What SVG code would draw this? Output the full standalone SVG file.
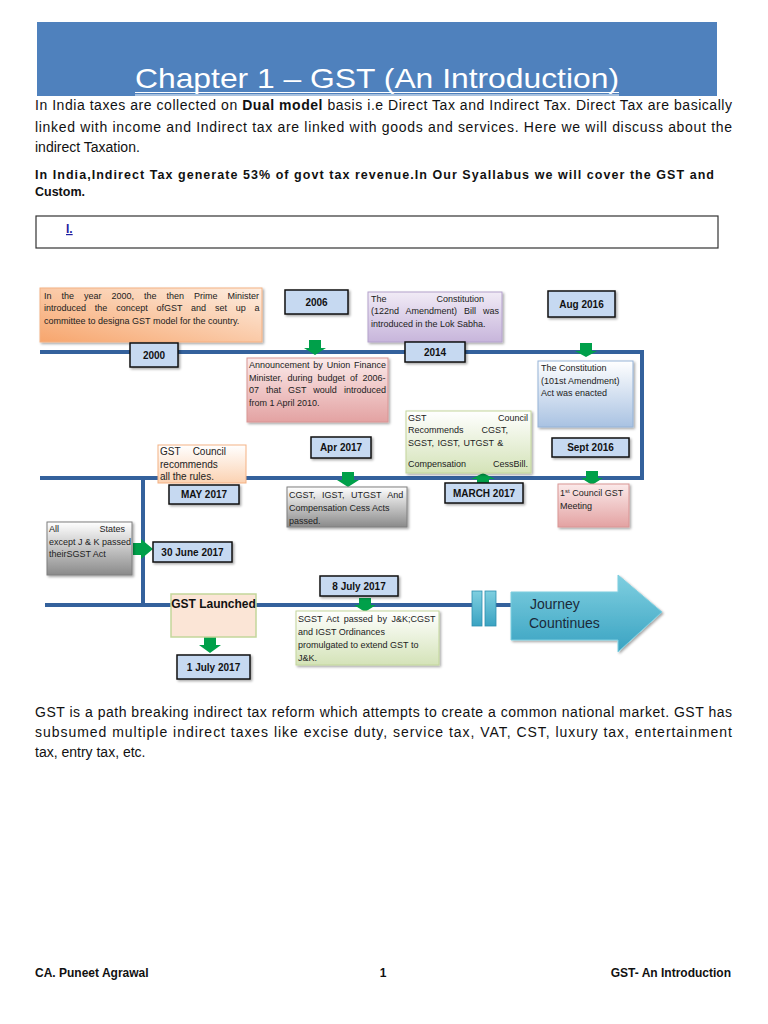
<svg xmlns="http://www.w3.org/2000/svg" width="768" height="1024" viewBox="0 0 768 1024">
<defs>
<style>
.body{font-family:"Liberation Sans",Arial,sans-serif;font-size:14px;fill:#111}
.bold{font-family:"Liberation Sans",Arial,sans-serif;font-size:12.5px;font-weight:bold;fill:#111}
.bx{font-family:"Liberation Sans",Arial,sans-serif;font-size:9px;fill:#222}
.end{text-anchor:end}
.dt{font-family:"Liberation Sans",Arial,sans-serif;font-size:10px;font-weight:bold;fill:#111;text-anchor:middle}
.date{fill:#c6d9f1;stroke:#111;stroke-width:1.5}
.tl{stroke:#34619c;stroke-width:4;fill:none}
.arr{fill:#00a04a}
.foot{font-family:"Liberation Sans",Arial,sans-serif;font-size:12px;font-weight:bold;fill:#111}
</style>
<linearGradient id="gOr" x1="0" y1="1" x2="1" y2="0"><stop offset="0" stop-color="#f7a56c"/><stop offset="1" stop-color="#fdeee2"/></linearGradient>
<linearGradient id="gPu" x1="0" y1="0" x2="0" y2="1"><stop offset="0" stop-color="#f1ebf6"/><stop offset="1" stop-color="#c7b5db"/></linearGradient>
<linearGradient id="gPk" x1="0" y1="0" x2="0" y2="1"><stop offset="0" stop-color="#fbeaea"/><stop offset="1" stop-color="#e3a2a2"/></linearGradient>
<linearGradient id="gBl" x1="0" y1="0" x2="0" y2="1"><stop offset="0" stop-color="#ffffff"/><stop offset="1" stop-color="#a9c2e2"/></linearGradient>
<linearGradient id="gGr" x1="0" y1="0" x2="0" y2="1"><stop offset="0" stop-color="#ffffff"/><stop offset="1" stop-color="#d4e3b8"/></linearGradient>
<linearGradient id="gGy" x1="0" y1="0" x2="0" y2="1"><stop offset="0" stop-color="#ffffff"/><stop offset="1" stop-color="#8a8a8a"/></linearGradient>
<linearGradient id="gOl" x1="0" y1="0" x2="0" y2="1"><stop offset="0" stop-color="#ffffff"/><stop offset="1" stop-color="#fbd2b2"/></linearGradient>
<linearGradient id="gTe" x1="0" y1="0" x2="0" y2="1"><stop offset="0" stop-color="#7fcfe0"/><stop offset="1" stop-color="#3aa3c2"/></linearGradient>
<filter id="sh" x="-10%" y="-10%" width="130%" height="140%"><feDropShadow dx="1.5" dy="1.5" stdDeviation="1" flood-color="#000" flood-opacity="0.35"/></filter>
</defs>
<rect width="768" height="1024" fill="#fff"/>

<g id="header">
<rect x="37" y="22" width="680" height="74" fill="#4f81bd"/>
<text x="135" y="88" textLength="484" lengthAdjust="spacingAndGlyphs" font-family="Liberation Sans,Arial,sans-serif" font-size="28" fill="#fff">Chapter 1 – GST (An Introduction)</text>
<line x1="135" y1="92.5" x2="619" y2="92.5" stroke="#fff" stroke-width="1"/>
<line x1="135" y1="95" x2="619" y2="95" stroke="#fff" stroke-width="1"/>
</g>

<g id="intro">
<text class="body" x="35" y="110" textLength="697" lengthAdjust="spacing">In India taxes are collected on <tspan font-weight="bold">Dual model</tspan> basis i.e Direct Tax and Indirect Tax. Direct Tax are basically</text>
<text class="body" x="35" y="132" textLength="697" lengthAdjust="spacing">linked with income and Indirect tax are linked with goods and services. Here we will discuss about the</text>
<text class="body" x="35" y="152">indirect Taxation.</text>
<text class="bold" x="35" y="179" textLength="679" lengthAdjust="spacing">In India,Indirect Tax generate 53% of govt tax revenue.In Our Syallabus we will cover the GST and</text>
<text class="bold" x="35" y="196">Custom.</text>
</g>

<g id="box-I">
<rect x="36" y="216" width="682" height="32" fill="#fff" stroke="#333" stroke-width="1.2"/>
<text x="66" y="233" font-family="Liberation Sans,Arial,sans-serif" font-size="12" font-weight="bold" fill="#1f1fa0" text-decoration="underline">I.</text>
</g>

<g id="connectors">
<path class="tl" d="M40 352 H642 V478 H40"/>
<path class="tl" d="M143 478 V605"/>
<path class="tl" d="M45 605 H472"/>
<line x1="495" y1="605" x2="512" y2="605" stroke="#34619c" stroke-width="4"/>
<path class="arr" d="M309 340 h12 v8 h5 l-11 7 l-11 -7 h5 z"/>
<path class="arr" d="M580 343 h12 v8 h5 l-11 6 l-11 -6 h5 z"/>
<path class="arr" d="M204 483 h12 v-5 h5 l-11 -5 l-11 5 h5 z"/>
<path class="arr" d="M342 472 h12 v8 h5 l-11 7 l-11 -7 h5 z"/>
<path class="arr" d="M477 483 h12 v-4 h6 l-12 -6 l-12 6 h6 z"/>
<path class="arr" d="M586 471 h12 v7 h5 l-11 7 l-11 -7 h5 z"/>
<path class="arr" d="M133 543 h8 v-4 l12 10 l-12 10 v-4 h-8 z"/>
<path class="arr" d="M359 598 h12 v7 h5 l-11 7 l-11 -7 h5 z"/>
<path class="arr" d="M204 637 h12 v8 h5 l-11 8 l-11 -8 h5 z"/>
</g>

<g id="n-2000-text">
<rect x="40" y="288" width="222" height="54" fill="url(#gOr)" stroke="#f4b183" stroke-width="1" filter="url(#sh)"/>
<text class="bx" x="44" y="299" font-size="9.5" word-spacing="7.5">In the year 2000, the then Prime Minister</text>
<text class="bx" x="44" y="311" font-size="9.5" word-spacing="6.3">introduced the concept ofGST and set up a</text>
<text class="bx" x="44" y="324" font-size="9.5">committee to designa GST model for the country.</text>
</g>
<g id="d-2006"><rect class="date" x="285" y="290" width="63" height="24" filter="url(#sh)"/><text class="dt" x="316.5" y="306">2006</text></g>
<g id="n-122nd">
<rect x="368" y="292" width="134" height="50" fill="url(#gPu)" stroke="#b4a2cc" stroke-width="1" filter="url(#sh)"/>
<text class="bx" x="371" y="302">The</text>
<text class="bx end" x="484" y="302">Constitution</text>
<text class="bx" x="371" y="314" word-spacing="4.5">(122nd Amendment) Bill was</text>
<text class="bx" x="371" y="327">introduced in the Lok Sabha.</text>
</g>
<g id="d-aug2016"><rect class="date" x="548" y="291" width="67" height="26" filter="url(#sh)"/><text class="dt" x="581.5" y="308">Aug 2016</text></g>
<g id="d-2000"><rect class="date" x="130" y="343" width="48" height="24" filter="url(#sh)"/><text class="dt" x="154" y="359">2000</text></g>
<g id="d-2014"><rect class="date" x="405" y="342" width="60" height="20" filter="url(#sh)"/><text class="dt" x="435" y="356">2014</text></g>
<g id="n-2006-text">
<rect x="247" y="358" width="141" height="64" fill="url(#gPk)" stroke="#d99594" stroke-width="1" filter="url(#sh)"/>
<text class="bx" x="249" y="368" word-spacing="1.3">Announcement by Union Finance</text>
<text class="bx" x="249" y="381" word-spacing="2.5">Minister, during budget of 2006-</text>
<text class="bx" x="249" y="393" word-spacing="4.5">07 that GST would introduced</text>
<text class="bx" x="249" y="406">from 1 April 2010.</text>
</g>
<g id="n-101st">
<rect x="538" y="361" width="95" height="66" fill="url(#gBl)" stroke="#95b3d7" stroke-width="1" filter="url(#sh)"/>
<text class="bx" x="541" y="371">The Constitution</text>
<text class="bx" x="541" y="384">(101st Amendment)</text>
<text class="bx" x="541" y="396">Act was enacted</text>
</g>
<g id="n-council-rec">
<rect x="406" y="411" width="125" height="62" fill="url(#gGr)" stroke="#c3d69b" stroke-width="1" filter="url(#sh)"/>
<text class="bx" x="408" y="421">GST</text>
<text class="bx end" x="528" y="421">Council</text>
<text class="bx" x="408" y="433">Recommends</text>
<text class="bx end" x="508" y="433">CGST,</text>
<text class="bx" x="408" y="446" word-spacing="1">SGST, IGST, UTGST &amp;</text>
<text class="bx" x="408" y="467">Compensation</text>
<text class="bx end" x="528" y="467">CessBill.</text>
</g>
<g id="d-apr2017"><rect class="date" x="311" y="437" width="60" height="21" filter="url(#sh)"/><text class="dt" x="341" y="451" font-size="9">Apr 2017</text></g>
<g id="d-sept2016"><rect class="date" x="552" y="438" width="77" height="19" filter="url(#sh)"/><text class="dt" x="590.5" y="451" font-size="9">Sept 2016</text></g>
<g id="n-rules">
<rect x="158" y="445" width="88" height="38" fill="url(#gOl)" stroke="#f4b183" stroke-width="1"/>
<text x="160" y="455" font-family="Liberation Sans,Arial,sans-serif" font-size="10" fill="#222">GST</text>
<text x="226" y="455" text-anchor="end" font-family="Liberation Sans,Arial,sans-serif" font-size="10" fill="#222">Council</text>
<text x="160" y="468" font-family="Liberation Sans,Arial,sans-serif" font-size="10" fill="#222">recommends</text>
<text x="160" y="480" font-family="Liberation Sans,Arial,sans-serif" font-size="10" fill="#222">all the rules.</text>
</g>
<g id="d-may2017"><rect class="date" x="169" y="485" width="70" height="19" filter="url(#sh)"/><text class="dt" x="204" y="498" font-size="9">MAY 2017</text></g>
<g id="n-cgst">
<rect x="287" y="487" width="120" height="40" fill="url(#gGy)" stroke="#7f7f7f" stroke-width="1" filter="url(#sh)"/>
<text class="bx" x="289" y="498" word-spacing="4">CGST, IGST, UTGST And</text>
<text class="bx" x="289" y="511">Compensation Cess Acts</text>
<text class="bx" x="289" y="524">passed.</text>
</g>
<g id="d-march2017"><rect class="date" x="445" y="483" width="78" height="20" filter="url(#sh)"/><text class="dt" x="484" y="497" font-size="9">MARCH 2017</text></g>
<g id="n-first-meeting">
<rect x="558" y="484" width="71" height="43" fill="url(#gPk)" stroke="#d99594" stroke-width="1" filter="url(#sh)"/>
<text class="bx" x="560" y="496">1<tspan font-size="6" dy="-3">st</tspan><tspan dy="3"> Council  GST</tspan></text>
<text class="bx" x="560" y="509">Meeting</text>
</g>
<g id="n-states">
<rect x="47" y="522" width="85" height="53" fill="url(#gGy)" stroke="#7f7f7f" stroke-width="1" filter="url(#sh)"/>
<text class="bx" x="49" y="532">All</text>
<text class="bx end" x="125" y="532">States</text>
<text class="bx" x="49" y="545">except J &amp; K passed</text>
<text class="bx" x="49" y="557">theirSGST Act</text>
</g>
<g id="d-30june"><rect class="date" x="153" y="542" width="79" height="20" filter="url(#sh)"/><text class="dt" x="192.5" y="556" font-size="9">30 June 2017</text></g>
<g id="d-8july"><rect class="date" x="320" y="576" width="78" height="20" filter="url(#sh)"/><text class="dt" x="359" y="590" font-size="9">8 July 2017</text></g>
<g id="n-sgst-jk">
<rect x="296" y="611" width="143" height="54" fill="url(#gGr)" stroke="#c3d69b" stroke-width="1" filter="url(#sh)"/>
<text class="bx" x="298" y="622" word-spacing="2">SGST Act passed by J&amp;K;CGST</text>
<text class="bx" x="298" y="635">and IGST Ordinances</text>
<text class="bx" x="298" y="648">promulgated to extend GST to</text>
<text class="bx" x="298" y="661">J&amp;K.</text>
</g>
<g id="n-launched">
<rect x="171" y="594" width="85" height="43" fill="#fbe5d6" stroke="#c3d69b" stroke-width="1.5"/>
<text x="213.5" y="608" text-anchor="middle" font-family="Liberation Sans,Arial,sans-serif" font-size="12" font-weight="bold" fill="#111">GST Launched</text>
</g>
<g id="d-1july"><rect class="date" x="177" y="655" width="73" height="24" filter="url(#sh)"/><text class="dt" x="213.5" y="671" font-size="9">1 July 2017</text></g>
<g id="n-journey">
<rect x="472" y="591" width="10" height="35" fill="url(#gTe)" stroke="#2e8fb0" stroke-width="0.8"/>
<rect x="485" y="591" width="11" height="35" fill="url(#gTe)" stroke="#2e8fb0" stroke-width="0.8"/>
<path d="M511 592 H618 V575 L662 612 L618 652 V640 H511 Z" fill="url(#gTe)" stroke="#7fcfe0" stroke-width="1" filter="url(#sh)"/>
<text x="530" y="609" font-family="Liberation Sans,Arial,sans-serif" font-size="14" fill="#1a2a3a">Journey</text>
<text x="529" y="628" font-family="Liberation Sans,Arial,sans-serif" font-size="14" fill="#1a2a3a">Countinues</text>
</g>

<g id="outro">
<text class="body" x="35" y="717" textLength="697" lengthAdjust="spacing">GST is a path breaking indirect tax reform which attempts to create a common national market. GST has</text>
<text class="body" x="35" y="737" textLength="697" lengthAdjust="spacing">subsumed multiple indirect taxes like excise duty, service tax, VAT, CST, luxury tax, entertainment</text>
<text class="body" x="35" y="757">tax, entry tax, etc.</text>
</g>

<g id="footer">
<text class="foot" x="35" y="977">CA. Puneet Agrawal</text>
<text class="foot" x="383" y="977" text-anchor="middle">1</text>
<text class="foot" x="731" y="977" text-anchor="end">GST- An Introduction</text>
</g>
</svg>
